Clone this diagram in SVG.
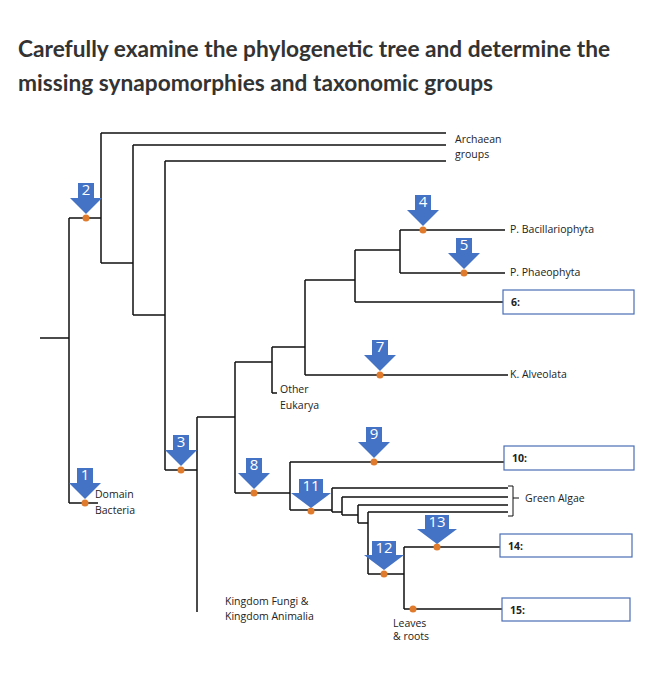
<svg xmlns="http://www.w3.org/2000/svg" width="663" height="700" viewBox="0 0 663 700">
<style>
.t{font-family:Lato,"Open Sans",sans-serif;font-weight:bold;font-size:22.7px;fill:#333}
.l{font-family:"Open Sans","Liberation Sans",sans-serif;font-size:10.5px;fill:#222}
.b{font-family:"Open Sans","Liberation Sans",sans-serif;font-size:10.5px;font-weight:bold;fill:#222}
.n{font-family:"Open Sans","Liberation Sans",sans-serif;font-size:15px;fill:#fff;text-anchor:middle}
.box{fill:#fff;stroke:#4a6fb5;stroke-width:1.2}
.ln{stroke:#111;stroke-width:1.5;fill:none}
.dot{fill:#e07b2e}
.ar{fill:#4472c4}
</style>
<defs>
<path id="arw" class="ar" d="M-8,-31 H8 V-16 H16 L0,0 L-16,-16 H-8 Z"/>
</defs>
<rect width="663" height="700" fill="#fff"/>
<text class="t" x="18" y="57">Carefully examine the phylogenetic tree and determine the</text>
<text class="t" x="18" y="91">missing synapomorphies and taxonomic groups</text>
<g id="connectors" class="ln">
<path d="M40,338H69 M69,218V503 M69,218H101 M69,503H98"/>
<path d="M101,133V263 M101,133H446 M101,263H133"/>
<path d="M133,145V315 M133,145H446 M133,315H165"/>
<path d="M165,161V470 M165,161H446 M165,470H197"/>
<path d="M197,417V612 M197,417H235"/>
<path d="M235,362V493 M235,362H272 M235,493H290"/>
<path d="M272,347V393 M272,393H277 M272,347H305"/>
<path d="M305,280V375 M305,280H355 M305,375H508"/>
<path d="M355,250V302 M355,302H503 M355,250H400"/>
<path d="M400,230V273 M400,230H505 M400,273H505"/>
<path d="M290,462V510 M290,462H504 M290,510H332"/>
<path d="M332,488V512 M332,488H508 M332,512H342 M342,497V515 M342,497H508 M342,515H358 M358,505V523 M358,505H508 M358,523H368 M368,512V574 M368,512H508 M368,574H404"/>
<path d="M404,547V609 M404,547H500 M404,609H502"/>
<path d="M508,486H513V516H508 M513,498H519" stroke-width="1"/>
</g>
<g id="labels">
<text class="l" x="455" y="143">Archaean</text>
<text class="l" x="455" y="158">groups</text>
<text class="l" x="510" y="233">P. Bacillariophyta</text>
<text class="l" x="510" y="276">P. Phaeophyta</text>
<text class="l" x="510" y="378">K. Alveolata</text>
<text class="l" x="525" y="502">Green Algae</text>
<text class="l" x="280" y="393">Other</text>
<text class="l" x="280" y="409">Eukarya</text>
<text class="l" x="95" y="498">Domain</text>
<text class="l" x="95" y="514">Bacteria</text>
<text class="l" x="225" y="605">Kingdom Fungi &amp;</text>
<text class="l" x="225" y="620">Kingdom Animalia</text>
<text class="l" x="393" y="627" font-size="9">Leaves</text>
<text class="l" x="393" y="640" font-size="9">&amp; roots</text>
</g>
<g id="box6"><rect class="box" x="503" y="290" width="131" height="24"/><text class="b" x="511" y="306">6:</text></g>
<g id="box10"><rect class="box" x="504" y="446" width="130" height="24"/><text class="b" x="512" y="462">10:</text></g>
<g id="box14"><rect class="box" x="500" y="534" width="132" height="23"/><text class="b" x="508" y="550">14:</text></g>
<g id="box15"><rect class="box" x="502" y="598" width="128" height="23"/><text class="b" x="510" y="614">15:</text></g>
<g id="dots">
<circle class="dot" cx="86" cy="218" r="3.5"/><circle class="dot" cx="85" cy="503" r="3.5"/>
<circle class="dot" cx="181" cy="470" r="3.5"/><circle class="dot" cx="423" cy="230" r="3.5"/>
<circle class="dot" cx="464" cy="273" r="3.5"/><circle class="dot" cx="380" cy="375" r="3.5"/>
<circle class="dot" cx="254" cy="493" r="3.5"/><circle class="dot" cx="374" cy="462" r="3.5"/>
<circle class="dot" cx="311" cy="511" r="3.5"/><circle class="dot" cx="384" cy="574" r="3.5"/>
<circle class="dot" cx="437" cy="547" r="3.5"/><circle class="dot" cx="413" cy="609" r="3.5"/>
</g>
<g id="m1"><use href="#arw" x="85" y="499"/><text class="n" x="85" y="480">1</text></g>
<g id="m2"><use href="#arw" x="86" y="214"/><text class="n" x="86" y="195">2</text></g>
<g id="m3"><use href="#arw" x="181" y="466"/><text class="n" x="181" y="447">3</text></g>
<g id="m4"><use href="#arw" x="423" y="226"/><text class="n" x="423" y="207">4</text></g>
<g id="m5"><use href="#arw" x="464" y="269"/><text class="n" x="464" y="250">5</text></g>
<g id="m7"><use href="#arw" x="380" y="371"/><text class="n" x="380" y="352">7</text></g>
<g id="m8"><use href="#arw" x="254" y="489"/><text class="n" x="254" y="470">8</text></g>
<g id="m9"><use href="#arw" x="374" y="458"/><text class="n" x="374" y="439">9</text></g>
<g id="m11"><path class="ar" transform="translate(311,508)" d="M-12,-29 H12 V-15 H20 L0,0 L-20,-15 H-12 Z"/><text class="n" x="311" y="491" font-size="12">11</text></g>
<g id="m12"><path class="ar" transform="translate(384,570)" d="M-12,-29 H12 V-15 H20 L0,0 L-20,-15 H-12 Z"/><text class="n" x="384" y="553" font-size="12">12</text></g>
<g id="m13"><path class="ar" transform="translate(437,544)" d="M-12,-29 H12 V-15 H20 L0,0 L-20,-15 H-12 Z"/><text class="n" x="437" y="527" font-size="12">13</text></g>
</svg>
